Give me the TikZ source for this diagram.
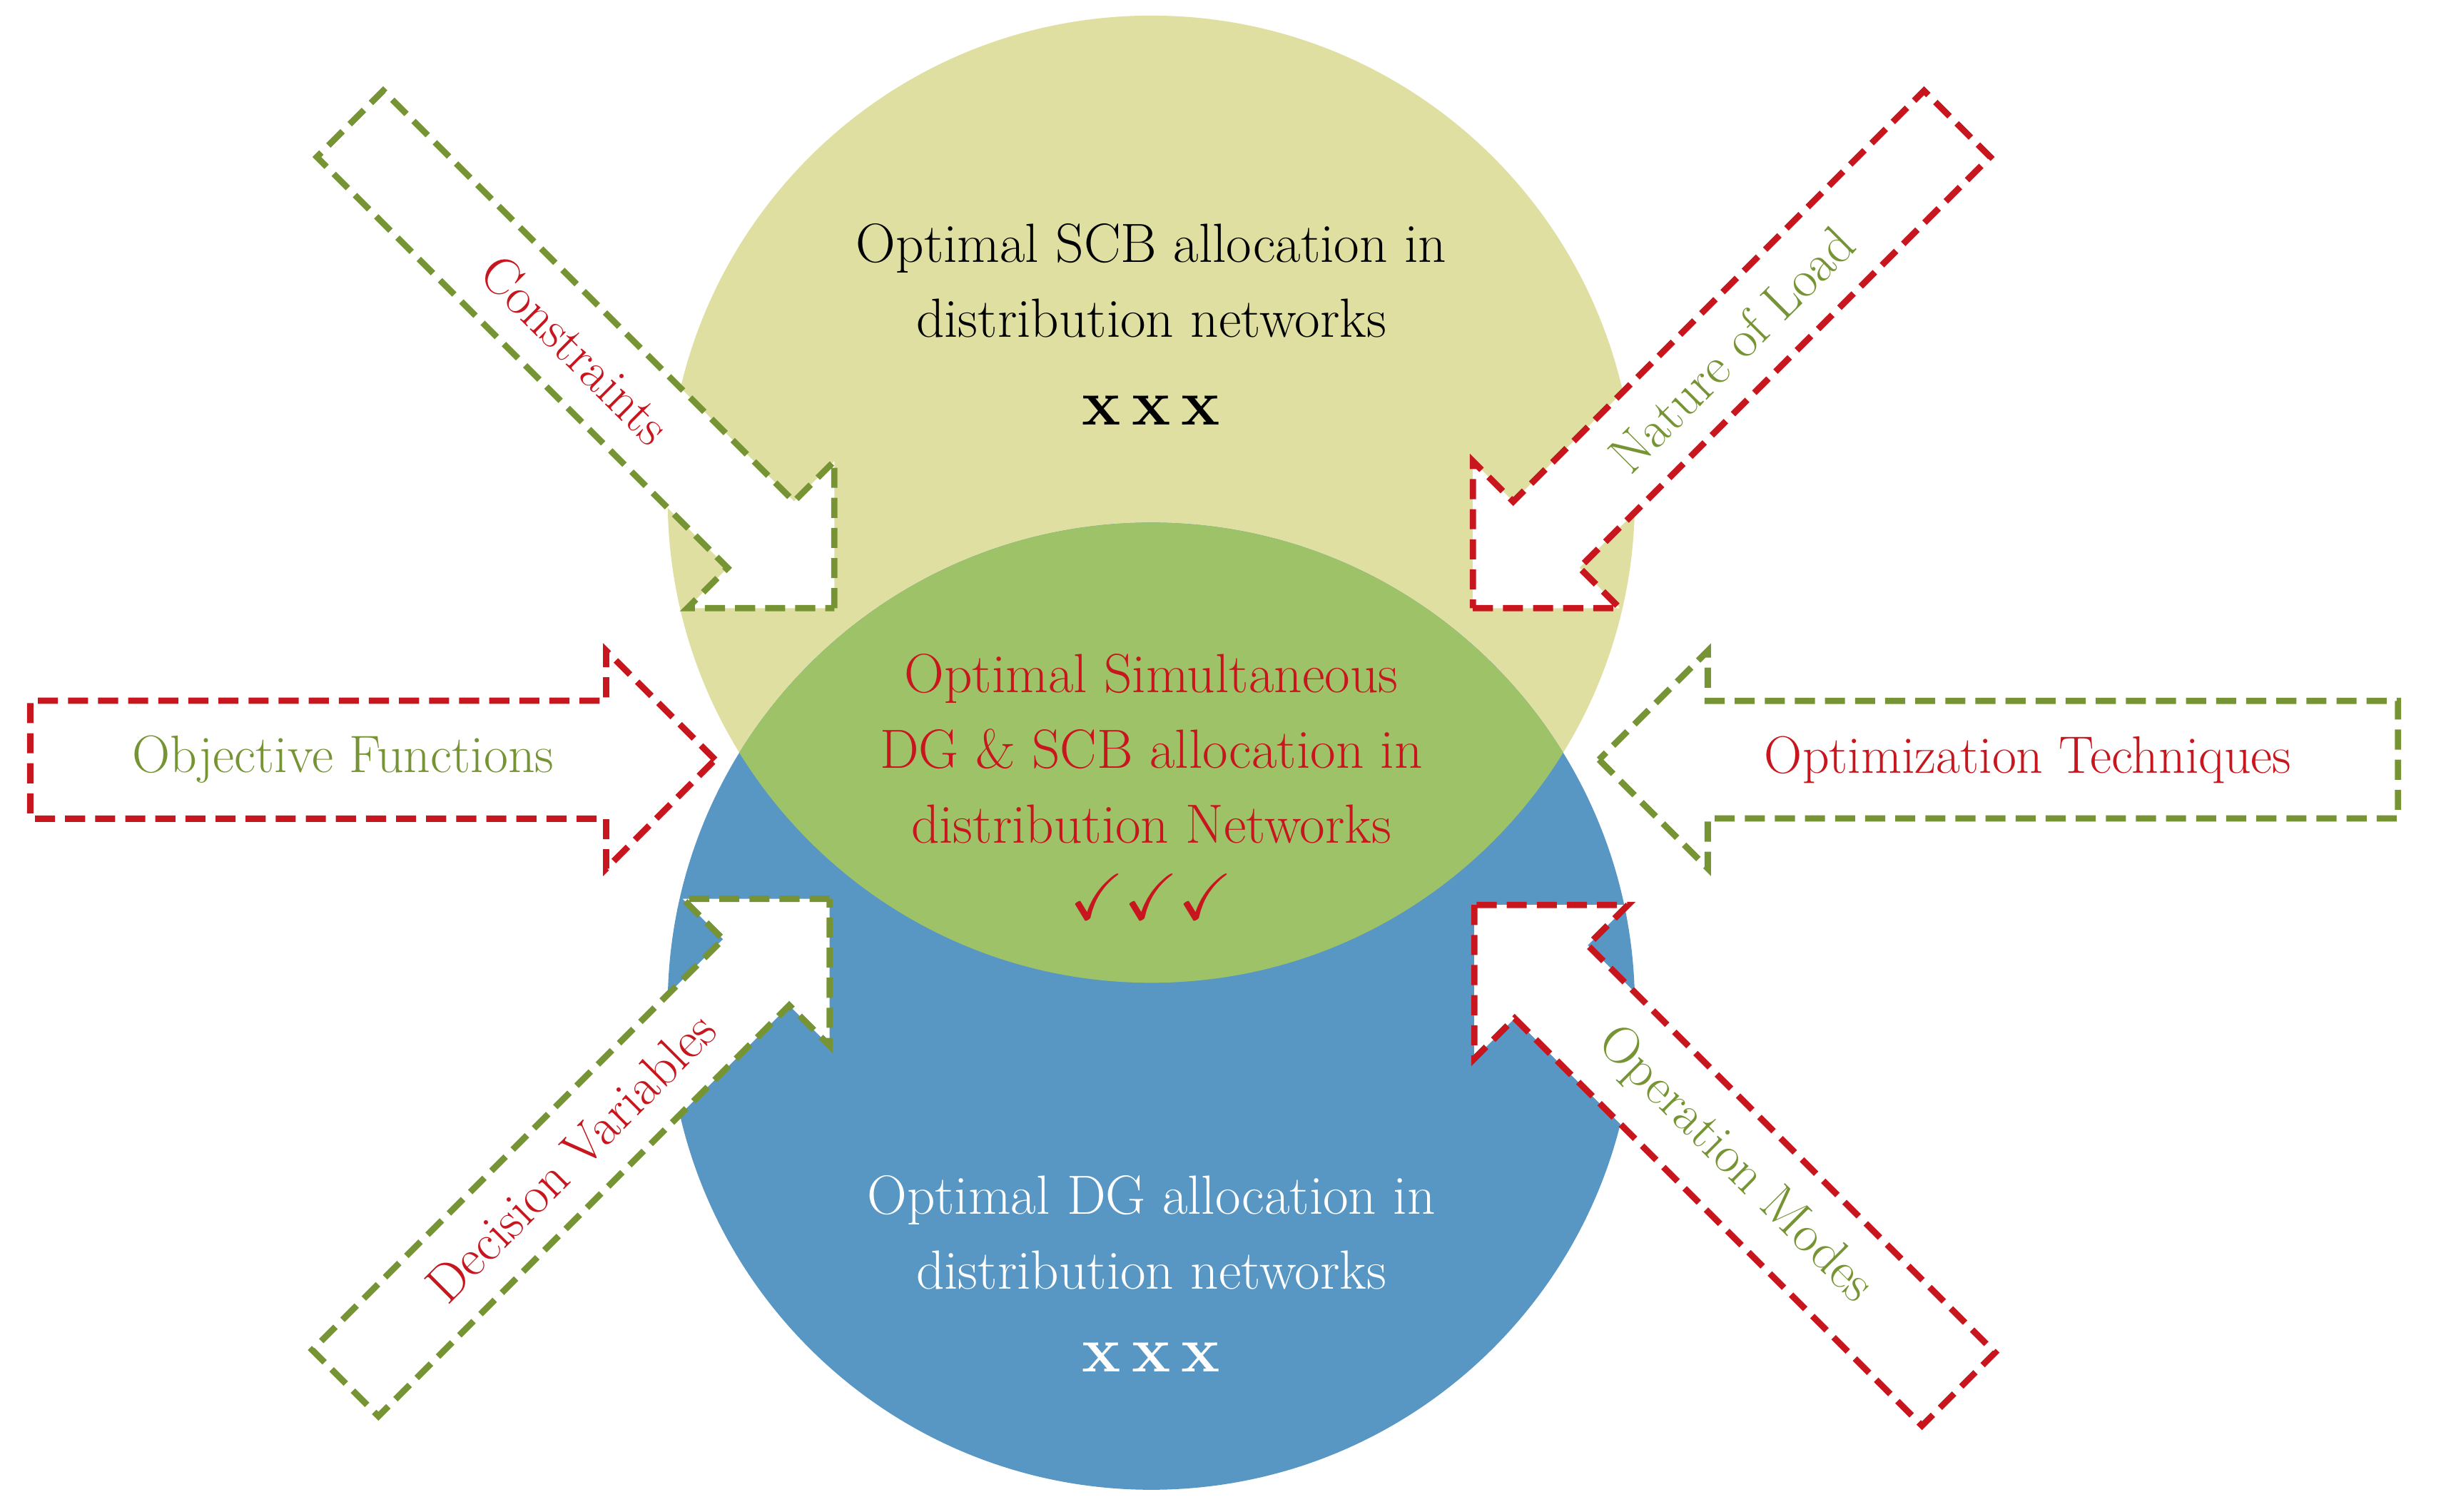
\documentclass[tikz,border=0pt]{standalone}
\usepackage{amssymb}
\usetikzlibrary{shapes.arrows}
\definecolor{scbyellow}{RGB}{222,223,160}
\definecolor{dgblue}{RGB}{88,150,196}
\definecolor{lensgreen}{RGB}{158,194,104}
\definecolor{darkred}{RGB}{200,22,30}
\definecolor{olivegreen}{RGB}{118,148,52}
\tikzset{
  lbl/.style={font=\fontsize{22}{30}\selectfont, align=center},
  dasharrow/.style={single arrow, draw, fill=white, line width=2.5pt,
    dash pattern=on 8pt off 4pt, font=\fontsize{21}{25}\selectfont,
    single arrow head extend=0.8cm, inner ysep=0.35cm, inner xsep=0.2cm},
}
\begin{document}
\begin{tikzpicture}[x=0.02186cm, y=-0.02186cm]
    \useasboundingbox (0,0) rectangle (1568,969);
    % circles
    \fill[scbyellow] (738,320) circle (310);
    \fill[dgblue] (738,645) circle (310);
    \begin{scope}
        \clip (738,320) circle (310);
        \fill[lensgreen] (738,645) circle (310);
    \end{scope}

    % texts of the circles
    \node[lbl] (scb) at (738,180) {Optimal SCB allocation in\\distribution networks};
    \node[lbl, font=\fontsize{26}{30}\selectfont\bfseries] (scbx) at (738,263) {x\,x\,x};
    \node[lbl, text=darkred] (both) at (738,480) {Optimal Simultaneous\\DG \& SCB allocation in\\distribution Networks};
    \node[lbl, text=darkred, font=\fontsize{26}{30}\selectfont] (bothok) at (738,575) {$\checkmark\checkmark\checkmark$};
    \node[lbl, text=white] (dg) at (738,790) {Optimal DG allocation in\\distribution networks};
    \node[lbl, text=white, font=\fontsize{26}{30}\selectfont\bfseries] (dgx) at (738,870) {x\,x\,x};

    % arrows
    \node[dasharrow, draw=olivegreen, text=darkred, minimum height=9.6cm, rotate=-45] (cons) at (369,224) {Constraints};
    \node[dasharrow, draw=darkred, text=olivegreen, minimum height=9.6cm, rotate=45, shape border rotate=180] (load) at (1110,224) {Nature of Load};
    \node[dasharrow, draw=olivegreen, text=darkred, minimum height=9.6cm, rotate=45] (dec) at (366,742) {Decision Variables};
    \node[dasharrow, draw=darkred, text=olivegreen, minimum height=9.6cm, rotate=-45, shape border rotate=180] (oper) at (1112,747) {Operation Modes};
    \node[dasharrow, draw=darkred, text=olivegreen, minimum height=9.6cm, single arrow head extend=0.7cm, inner ysep=0.45cm] (obj) at (220,487) {Objective Functions};
    \node[dasharrow, draw=olivegreen, text=darkred, minimum height=11.2cm, single arrow head extend=0.7cm, inner ysep=0.45cm, shape border rotate=180] (tech) at (1300,487) {Optimization Techniques};
\end{tikzpicture}
\end{document}
